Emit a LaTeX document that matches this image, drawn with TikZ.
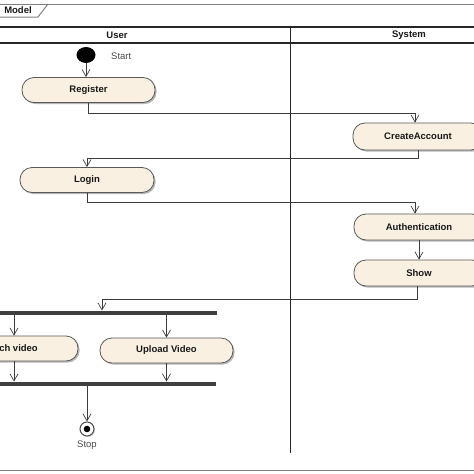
\documentclass[tikz,border=0pt]{standalone}
\usepackage{fontspec}
\setmainfont{Liberation Sans}
\usetikzlibrary{arrows.meta,shadows,calc,shapes.geometric}
\definecolor{actfill}{RGB}{250,240,225}
\definecolor{lineclr}{RGB}{60,60,60}
\tikzset{
  act/.style={draw=black!65, line width=0.8pt, fill=actfill, rounded corners=12pt,
    minimum height=25pt, inner sep=0pt, text=black!90,
    font=\fontsize{9.5}{11}\selectfont\bfseries,
    drop shadow={shadow xshift=1.6pt, shadow yshift=-1.6pt, fill=black!35, opacity=0.8}},
  bar/.style={fill=black!75, draw=none, minimum height=4.5pt, inner sep=0pt},
  arr/.style={draw=lineclr, line width=0.7pt, -{Straight Barb[length=7pt,width=8pt,line width=0.7pt]}},
  conn/.style={draw=lineclr, line width=0.7pt},
  lane/.style={draw=black!85, line width=1.3pt},
  framel/.style={draw=black!50, line width=1pt},
  hdr/.style={font=\fontsize{9.5}{11}\selectfont\bfseries, text=black!90, inner sep=0pt},
  lbl/.style={font=\fontsize{9.5}{11}\selectfont, text=black!70, inner sep=0pt}
}
\begin{document}
\begin{tikzpicture}[x=1pt,y=-1pt]
\useasboundingbox (0,0) rectangle (474,474);
\clip (0,0) rectangle (474,474);
\fill[white] (0,0) rectangle (474,474);
% frame
\draw[framel] (-2,4) -- (476,4);
\draw[framel] (-2,470) -- (476,470);
\draw[framel] (-2,17) -- (38,17) -- (48,4);
\node[hdr] (model) at (18,10.5) {Model};
% lanes
\draw[lane] (-2,27) -- (476,27);
\draw[lane] (-2,43) -- (476,43);
\draw[lane] (290.5,27) -- (290.5,453);
\node[hdr] (user) at (117,35) {User};
\node[hdr] (system) at (409,35) {System};
% start
\node[ellipse, fill=black, minimum width=19pt, minimum height=16pt, inner sep=0pt] (start) at (86,55) {};
\node[lbl, anchor=west] (startl) at (111,56) {Start};
% activities
\node[act, minimum width=133pt] (reg) at (88.5,90) {Register};
\node[act, minimum width=130pt, minimum height=27pt] (ca) at (418,136.5) {CreateAccount};
\node[act, minimum width=134pt] (login) at (87,180) {Login};
\node[act, minimum width=130pt, minimum height=26pt] (auth) at (419,227) {Authentication};
\node[act, minimum width=130pt, minimum height=26pt] (show) at (419,273) {Show};
\node[act, minimum width=136pt] (watch) at (10,348.5) {Watch video};
\node[act, minimum width=133pt] (upload) at (166.5,350.5) {Upload Video};
% bars
\node[bar, minimum width=230pt] (fork) at (102,313) {};
\node[bar, minimum width=230pt] (join) at (101,384) {};
% stop
\node[circle, draw=black!70, line width=1pt, fill=white, minimum size=14pt, inner sep=0pt,
  drop shadow={shadow xshift=1pt, shadow yshift=-1pt, fill=black!30},
  path picture={\fill[black] (path picture bounding box.center) circle (3.3pt);}] (stop) at (87,429) {};
\node[lbl] (stopl) at (87,445) {Stop};
% helper coordinates
\coordinate (k1) at (0,113);
\coordinate (k2) at (0,158);
\coordinate (k3) at (0,202);
\coordinate (k4) at (102,299);
\coordinate (kx1) at (415,0);
\coordinate (kw) at (14,0);
% connectors
\draw[arr] (start) -- (start |- reg.north);
\draw[arr] (reg.south) -- (reg.south |- k1) -- (kx1 |- k1) -- (kx1 |- ca.north);
\draw[arr] (ca.south) -- (ca.south |- k2) -- (login.north |- k2) -- (login.north);
\draw[arr] (login.south) -- (login.south |- k3) -- (kx1 |- k3) -- (kx1 |- auth.north);
\draw[arr] (auth.south) -- (show.north);
\draw[arr] ($(show.south)+(-2,0)$) -- ($(show.south |- k4)+(-2,0)$) -- (k4) -- (k4 |- fork.north);
\draw[arr] (kw |- fork.south) -- (kw |- watch.north);
\draw[arr] (upload.north |- fork.south) -- (upload.north);
\draw[arr] (kw |- watch.south) -- (kw |- join.north);
\draw[arr] (upload.south) -- (upload.south |- join.north);
\draw[arr] (stop.north |- join.south) -- (stop.north);
\end{tikzpicture}
\end{document}
